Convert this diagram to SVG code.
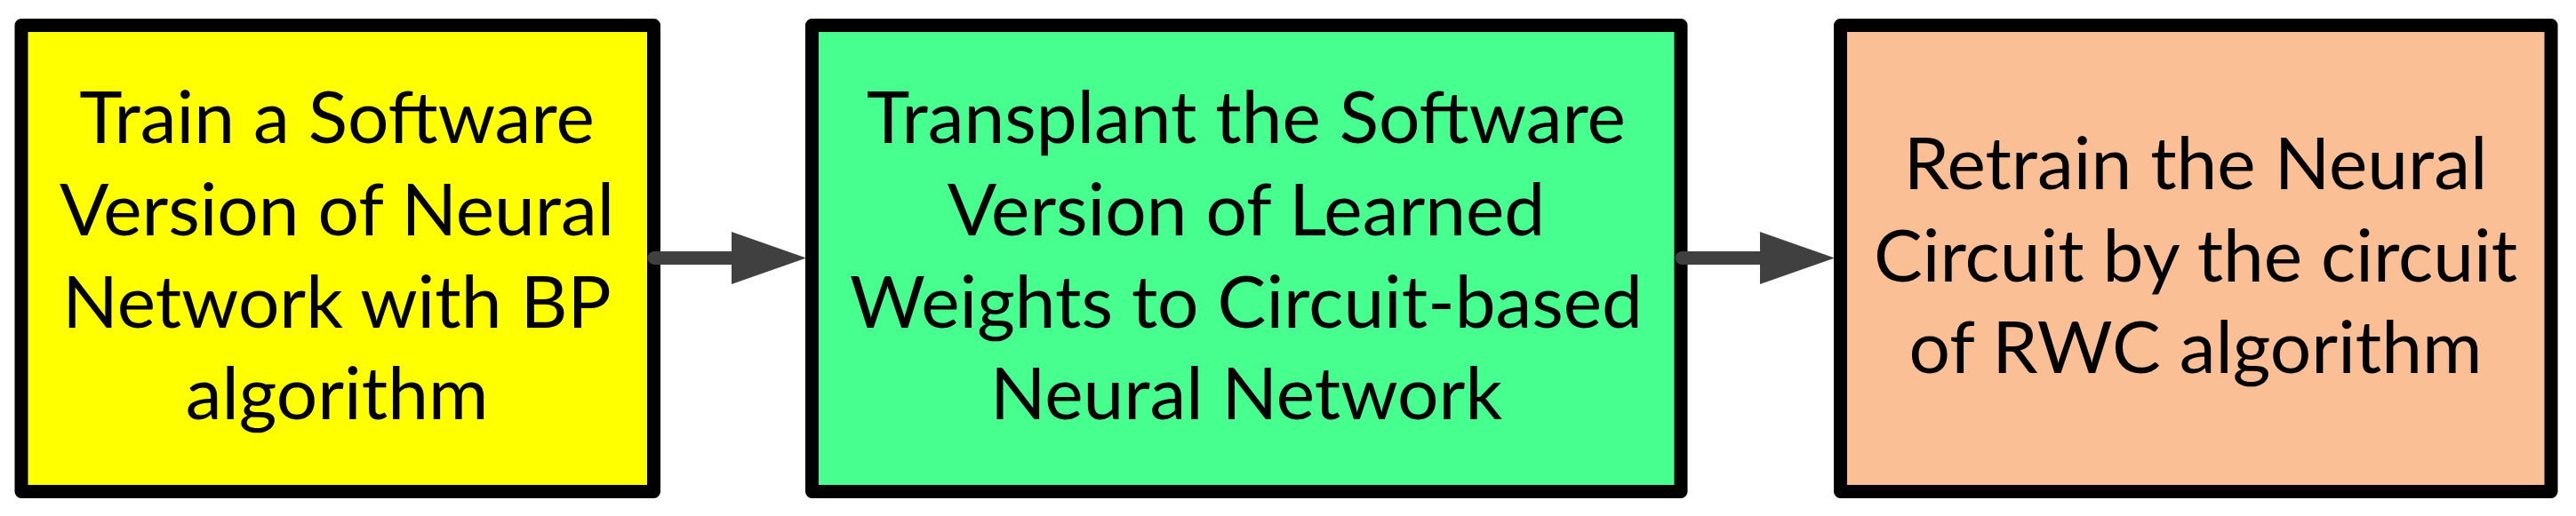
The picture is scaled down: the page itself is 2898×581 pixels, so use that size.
<svg xmlns="http://www.w3.org/2000/svg" width="2898" height="581" viewBox="0 0 2898 581">
<style>
.box{stroke:#000;stroke-width:15;stroke-linejoin:round}
.t{font-family:Lato,"Open Sans","Liberation Sans",sans-serif;font-size:82px;fill:#000;text-anchor:middle}
.c{stroke:#404040;stroke-width:15;stroke-linecap:round;fill:none}
.h{fill:#404040}
</style>
<rect width="2898" height="581" fill="#fff"/>
<g id="node1">
<rect class="box" x="24" y="28.5" width="711.5" height="525" fill="#FFFF00"/>
<text class="t" x="379" y="161">Train a Software</text>
<text class="t" x="379" y="265">Version of Neural</text>
<text class="t" x="379" y="369">Network with BP</text>
<text class="t" x="379" y="472">algorithm</text>
</g>
<g id="node2">
<rect class="box" x="913.5" y="28.5" width="977.5" height="525" fill="#47FF8F"/>
<text class="t" x="1402" y="161">Transplant the Software</text>
<text class="t" x="1402" y="265">Version of Learned</text>
<text class="t" x="1402" y="369">Weights to Circuit-based</text>
<text class="t" x="1402" y="472">Neural Network</text>
</g>
<g id="node3">
<rect class="box" x="2070.5" y="28.5" width="799.5" height="525" fill="#FBBF96"/>
<text class="t" x="2470" y="213">Retrain the Neural</text>
<text class="t" x="2470" y="316.5">Circuit by the circuit</text>
<text class="t" x="2470" y="420">of RWC algorithm</text>
</g>
<g id="connectors">
<line class="c" x1="736" y1="290.5" x2="826" y2="290.5"/>
<polygon class="h" points="823,261 907,290.5 823,320"/>
<line class="c" x1="1892" y1="290.5" x2="1983" y2="290.5"/>
<polygon class="h" points="1980,261 2064,290.5 1980,320"/>
</g>
</svg>
